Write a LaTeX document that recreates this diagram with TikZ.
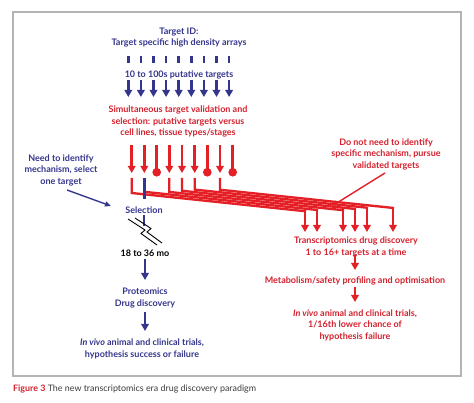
\documentclass[tikz,border=0pt]{standalone}
\usepackage{fontspec}
\setmainfont{Lato}
\usetikzlibrary{arrows.meta}
\definecolor{navy}{HTML}{34358C}
\definecolor{fred}{HTML}{D4202C}
\definecolor{ared}{HTML}{E41F26}
\definecolor{frame}{HTML}{B4B4B4}
\definecolor{capgray}{HTML}{3A3A3A}
\tikzset{
  txt/.style={font=\fontsize{9}{11.5}\selectfont\bfseries, align=center, inner sep=0pt},
  bluetxt/.style={txt, text=navy},
  redtxt/.style={txt, text=fred},
  blacktxt/.style={txt, text=black},
  bluearrow/.style={draw=navy, line width=2.5pt, -{Triangle[width=7.5pt,length=7pt]}},
  redarrow/.style={draw=ared, line width=2.5pt, -{Triangle[width=7.5pt,length=7pt]}},
  redball/.style={draw=ared, line width=2.5pt, -{Circle[length=8.5pt]}},
  bandline/.style={draw=ared, line width=2.35pt},
  thinblue/.style={draw=navy, line width=1.4pt, -{Triangle[width=5pt,length=6pt]}},
  thinred/.style={draw=ared, line width=1.4pt, -{Triangle[width=5pt,length=6pt]}},
}
\begin{document}
\begin{tikzpicture}[x=1pt,y=-1pt]
\useasboundingbox (0,0) rectangle (474,403);
\draw[frame, line width=1.2pt] (13,12) rectangle (461,376);

% top
\node[bluetxt] (title) at (179,37.5) {Target ID:\\Target specific high density arrays};
\foreach \i/\x in {1/128.3,2/140.9,3/153.5,4/166.1,5/178.7,6/191.3,7/203.9,8/216.5,9/229.1}{
  \coordinate (b\i) at (\x,56);
  \coordinate (bb\i) at (\x,63);
  \draw[navy, line width=2.5pt] (b\i) -- (bb\i);
}
\node[bluetxt] (putative) at (179,75) {10 to 100s putative targets};
\foreach \i/\x in {1/128.3,2/140.9,3/153.5,4/166.1,5/178.7,6/191.3,7/203.9,8/216.5,9/229.1}{
  \coordinate (s\i) at (\x,80);
  \coordinate (e\i) at (\x,97);
  \draw[bluearrow] (s\i) -- (e\i);
}
\node[redtxt] (simul) at (178,121.5) {Simultaneous target validation and\\selection: putative targets versus\\cell lines, tissue types/stages};

% red arrows
\foreach \i/\x in {1/131.7,2/144.3,4/169.3,5/182,6/194.7,8/220}{
  \coordinate (rs\i) at (\x,145);
  \coordinate (re\i) at (\x,173);
  \draw[redarrow] (rs\i) -- (re\i);
}
\foreach \i/\x in {3/156.7,7/207.3,9/232.7}{
  \coordinate (rs\i) at (\x,145);
  \coordinate (re\i) at (\x,176.5);
  \draw[redball] (rs\i) -- (re\i);
}

% band
\foreach \k/\xs/\xe in {0/131.7/305,1/144.3/317,2/169.3/343,3/182/355,4/194.7/367,5/220/393}{
  \pgfmathsetmacro{\ya}{193+0.105*(\xs-131.7)-\k*2.5}
  \pgfmathsetmacro{\yb}{193+0.105*(\xe-131.7)-\k*2.5}
  \coordinate (top\k) at (\xs,178);
  \coordinate (ca\k) at (\xs,\ya);
  \coordinate (cb\k) at (\xe,\yb);
  \coordinate (tip\k) at (\xe,232);
  \ifnum\k=1
    \draw[bandline, line join=miter] (ca\k) -- (cb\k) -- ++(0,1);
  \else
    \draw[bandline, line join=miter] (top\k) -- (ca\k) -- (cb\k) -- ++(0,1);
  \fi
  \draw[redarrow] (cb\k) -- (tip\k);
}
\coordinate (bluetop) at (144.3,178);
\coordinate (bluebot) at (144.3,199);
\draw[navy, line width=2.5pt] (bluetop) -- (bluebot);

% left
\node[bluetxt] (need) at (61,170) {Need to identify\\mechanism, select\\one target};
\node[bluetxt] (sel) at (144,210) {Selection};
\coordinate (na) at (67,190);
\coordinate (nb) at (111,206);
\draw[thinblue] (na) -- (nb);
\coordinate (sa) at (144.3,215);
\coordinate (sb) at (144.3,226);
\draw[navy, line width=2.2pt] (sa) -- (sb);
\draw[black, line width=0.9pt] (128,219) -- (145,230) -- (141,233.5) -- (157,245);
\draw[black, line width=0.9pt] (135,218) -- (151,228.5) -- (147,232) -- (162,243);
\node[blacktxt] (mo) at (145,253) {18 to 36 mo};
\coordinate (ma) at (145,259);
\coordinate (mb) at (145,280);
\draw[bluearrow] (ma) -- (mb);
\node[bluetxt] (prot) at (145,298) {Proteomics\\Drug discovery};
\coordinate (pa) at (145,312);
\coordinate (pb) at (145,331);
\draw[bluearrow] (pa) -- (pb);
\node[bluetxt] (invivob) at (142,349) {\textit{In vivo} animal and clinical trials,\\hypothesis success or failure};

% right
\node[redtxt] (donot) at (386,154) {Do not need to identify\\specific mechanism, pursue\\validated targets};
\coordinate (da) at (385,173);
\coordinate (db) at (332,206);
\draw[thinred] (da) -- (db);
\node[redtxt] (trans) at (356,247) {Transcriptomics drug discovery\\1 to 16+ targets at a time};
\coordinate (ta) at (355,255);
\coordinate (tb) at (355,270);
\draw[redarrow] (ta) -- (tb);
\node[redtxt] (metab) at (355,281) {Metabolism/safety profiling and optimisation};
\coordinate (ma2) at (355,287);
\coordinate (mb2) at (355,302);
\draw[redarrow] (ma2) -- (mb2);
\node[redtxt] (invivor) at (355,325) {\textit{In vivo} animal and clinical trials,\\1/16th lower chance of\\hypothesis failure};

% caption
\node[anchor=west, inner sep=0pt, font=\fontsize{8.9}{10}\selectfont, text=capgray] (cap) at (13,389) {\textcolor{fred}{\bfseries Figure 3} The new transcriptomics era drug discovery paradigm};
\end{tikzpicture}
\end{document}
